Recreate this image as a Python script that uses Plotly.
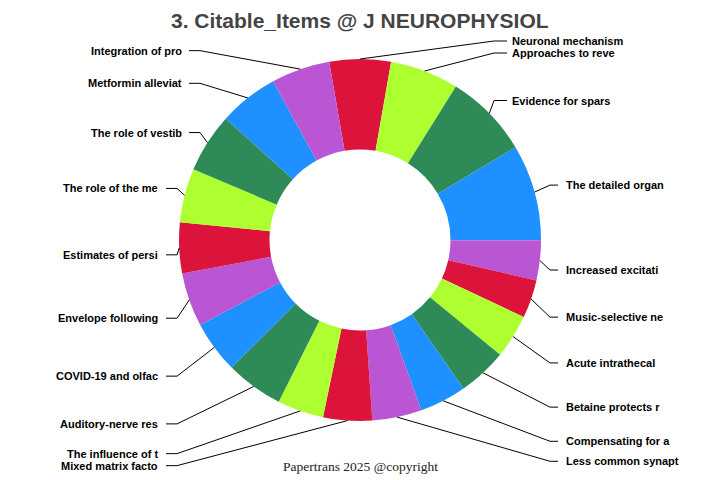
import math
import plotly.graph_objects as go

# slice labels (titles cut to 18 chars) and their sizes, clockwise from the top
labels = [
    "Neuronal mechanism", "Approaches to reve", "Evidence for spars", "The detailed organ",
    "Increased excitati", "Music-selective ne", "Acute intrathecal", "Betaine protects r",
    "Compensating for a", "Less common synapt", "Mixed matrix facto", "The influence of t",
    "Auditory-nerve res", "COVID-19 and olfac", "Envelope following", "Estimates of persi",
    "The role of the me", "The role of vestib", "Metformin alleviat", "Integration of pro",
]
values = [19.7, 22.1, 27.2, 30.9, 12.8, 12.3, 14.1, 15.8, 15.1, 15.9,
          15.7, 14.9, 18.5, 16.8, 17.3, 16.3, 17.4, 19.1, 19.2, 18.9]
palette = ["crimson", "greenyellow", "seagreen", "dodgerblue", "mediumorchid"]
colors = [palette[i % len(palette)] for i in range(len(labels))]

W, H = 720, 480
OFF = 8                        # page body margin in the browser
CX, CY, R = 360, 240, 181      # pie centre / radius in screen pixels
ROT = -9.8                     # start angle of first slice (deg, clockwise from 12)


def px(x):
    return (x - OFF) / W


def py(y):
    return 1 - (y - OFF) / H


fig = go.Figure(go.Pie(
    labels=labels, values=values, hole=0.5, sort=False, direction="clockwise",
    rotation=ROT, marker=dict(colors=colors), textinfo="none",
    domain=dict(x=[px(CX - R), px(CX + R)], y=[py(CY + R), py(CY - R)]),
    showlegend=False, hoverinfo="label+value",
))

# label placement: mid angle of each slice -> leader line + text
total = sum(values)
acc = 0.0
items = []
for lab, v in zip(labels, values):
    mid = math.radians(ROT + (acc + v / 2) / total * 360)
    acc += v
    s, c = math.sin(mid), math.cos(mid)
    ex, ey = CX + R * s, CY - R * c
    ly = ey - (6 + 14 * c * c) if c > 0 else ey + 5 + 40 * abs(c)
    items.append(dict(lab=lab, ex=ex, ey=ey, right=s >= 0, near=c > 0.4, y=ly))

for side in (True, False):
    grp = sorted([it for it in items if it["right"] == side], key=lambda d: d["y"])
    last = 41 - 14
    for it in grp:
        it["y"] = max(it["y"], last + 12, 41)
        last = it["y"]

annotations = []
shapes = []
for it in items:
    if it["right"]:
        x0, x1, tx, anchor = (494, 507, 511, "left") if it["near"] else (550, 558, 565, "left")
    else:
        x0, x1, tx, anchor = (200, 189, 183, "right") if it["near"] else (177, 166, 159, "right")
    y = it["y"]
    shapes.append(dict(
        type="path", xref="paper", yref="paper",
        path=f"M {px(it['ex'])},{py(it['ey'])} L {px(x0)},{py(y)} L {px(x1)},{py(y)}",
        line=dict(color="black", width=1),
    ))
    annotations.append(dict(
        text=f"<b>{it['lab']}</b>", x=px(tx), y=py(y), xref="paper", yref="paper",
        xanchor=anchor, yanchor="middle", showarrow=False, borderpad=0,
        font=dict(family="Arial", size=11, color="black"),
    ))

# title and footer
annotations.append(dict(
    text="<b>3. Citable_Items @ J NEUROPHYSIOL</b>", x=px(360), y=1, xref="paper", yref="paper",
    xanchor="center", yanchor="top", showarrow=False, borderpad=0,
    font=dict(family="Arial", size=21, color="#444"),
))
annotations.append(dict(
    text="Papertrans 2025 @copyright", x=px(360), y=py(466), xref="paper", yref="paper",
    xanchor="center", yanchor="middle", showarrow=False,
    font=dict(family="Times New Roman", size=13.5, color="#222"),
))

fig.update_layout(
    width=W, height=H,
    margin=dict(l=0, r=0, t=0, b=0),
    paper_bgcolor="white", plot_bgcolor="white",
    annotations=annotations, shapes=shapes,
)

fig.write_html("out.html")
